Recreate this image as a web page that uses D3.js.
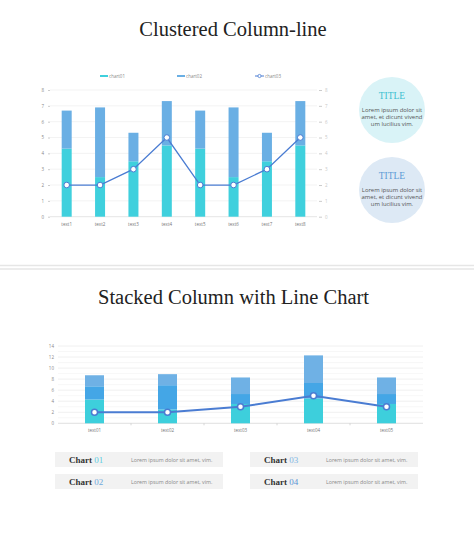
<!DOCTYPE html>
<html>
<head>
<meta charset="utf-8">
<style>
body { margin: 0; background: #fff; }
text { font-family: "Open Sans", "Noto Sans", sans-serif; }
.serif { font-family: "Liberation Serif", "DejaVu Serif", serif; }
</style>
</head>
<body>
<svg id="page"></svg>
<script src="https://cdnjs.cloudflare.com/ajax/libs/d3/7.8.5/d3.min.js"></script>
<script>
// top chart data
var cats1 = ['text1', 'text2', 'text3', 'text4', 'text5', 'text6', 'text7', 'text8'];
var chart01 = [4.3, 2.5, 3.5, 4.5, 4.3, 2.5, 3.5, 4.5];
var chart02 = [2.4, 4.4, 1.8, 2.8, 2.4, 4.4, 1.8, 2.8];
var chart03 = [2, 2, 3, 5, 2, 2, 3, 5];
var ticks1 = [0, 1, 2, 3, 4, 5, 6, 7, 8];

// bottom chart data
var cats2 = ['text01', 'text02', 'text03', 'text04', 'text05'];
var stackA = [4.3, 2.5, 3.5, 4.5, 3.5];
var stackB = [2.4, 4.4, 1.8, 2.8, 1.8];
var stackC = [2, 2, 3, 5, 3];
var line2 = [2, 2, 3, 5, 3];
var ticks2 = [0, 2, 4, 6, 8, 10, 12, 14];

var legendNames = ['chart01', 'chart02', 'chart03'];
var boxLabels = ['01', '02', '03', '04'];

var cyan = '#3fd0dd', blue = '#6aafe4', lineCol = '#4a7cd2';

var svg = d3.select('#page').attr('width', 474).attr('height', 535);

// titles
svg.append('text').attr('class', 'serif')
  .attr('x', 233).attr('y', 36).attr('text-anchor', 'middle')
  .attr('font-size', 20.5).attr('fill', '#222')
  .text('Clustered Column-line');
svg.append('text').attr('class', 'serif')
  .attr('x', 233.5).attr('y', 304).attr('text-anchor', 'middle')
  .attr('font-size', 20.5).attr('fill', '#222')
  .text('Stacked Column with Line Chart');

// ---- top chart ----
var x1 = d3.scaleBand().domain(cats1).range([50, 317]);
var y1 = d3.scaleLinear().domain([0, 8]).range([216.7, 90]);
var g1 = svg.append('g');

g1.selectAll('line.grid').data(ticks1).enter().append('line')
  .attr('x1', 50).attr('x2', 317)
  .attr('y1', function(d) { return y1(d); })
  .attr('y2', function(d) { return y1(d); })
  .attr('stroke', function(d) { return d == 0 ? '#ddd' : '#f0f0f0'; })
  .attr('stroke-width', 0.8);

var leftAxis = d3.axisLeft(y1).tickValues(ticks1).tickSize(2).tickPadding(4);
g1.append('g').attr('transform', 'translate(50,0)').call(leftAxis)
  .call(function(g) {
    g.select('.domain').remove();
    g.selectAll('line').attr('stroke', '#ccc');
    g.selectAll('text').attr('font-size', 4.5).attr('fill', '#888');
  });
var rightAxis = d3.axisRight(y1).tickValues(ticks1).tickSize(3).tickPadding(3);
g1.append('g').attr('transform', 'translate(319,0)').call(rightAxis)
  .call(function(g) {
    g.select('.domain').remove();
    g.selectAll('line').attr('stroke', '#ccc');
    g.selectAll('text').attr('font-size', 4.5).attr('fill', '#c8c8c8');
  });
var bottomAxis1 = d3.axisBottom(x1).tickSize(0).tickPadding(6);
g1.append('g').attr('transform', 'translate(0,' + y1(0) + ')').call(bottomAxis1)
  .call(function(g) {
    g.select('.domain').remove();
    g.selectAll('text').attr('font-size', 4.5).attr('fill', '#777');
  });

var bw1 = 10;
g1.selectAll('rect.a').data(cats1).enter().append('rect')
  .attr('x', function(d) { return x1(d) + x1.bandwidth() / 2 - bw1 / 2; })
  .attr('width', bw1)
  .attr('y', function(d, i) { return y1(chart01[i]); })
  .attr('height', function(d, i) { return y1(0) - y1(chart01[i]); })
  .attr('fill', cyan);
g1.selectAll('rect.b').data(cats1).enter().append('rect')
  .attr('x', function(d) { return x1(d) + x1.bandwidth() / 2 - bw1 / 2; })
  .attr('width', bw1)
  .attr('y', function(d, i) { return y1(chart01[i] + chart02[i]); })
  .attr('height', function(d, i) { return y1(chart01[i]) - y1(chart01[i] + chart02[i]); })
  .attr('fill', blue);

var line1 = d3.line()
  .x(function(d, i) { return x1(cats1[i]) + x1.bandwidth() / 2; })
  .y(function(d) { return y1(d); });
g1.append('path').datum(chart03).attr('d', line1)
  .attr('fill', 'none').attr('stroke', lineCol).attr('stroke-width', 1.3);
g1.selectAll('circle.pt').data(chart03).enter().append('circle')
  .attr('cx', function(d, i) { return x1(cats1[i]) + x1.bandwidth() / 2; })
  .attr('cy', function(d) { return y1(d); })
  .attr('r', 2.8).attr('fill', '#fff')
  .attr('stroke', lineCol).attr('stroke-width', 1);

// legend
var legX = [100, 177, 255];
var leg = g1.selectAll('g.leg').data(legendNames).enter().append('g')
  .attr('transform', function(d, i) { return 'translate(' + legX[i] + ',76)'; });
leg.each(function(d, i) {
  var g = d3.select(this);
  if (i < 2) {
    g.append('rect').attr('x', 0).attr('y', -1).attr('width', 8).attr('height', 2)
      .attr('fill', i == 0 ? cyan : blue);
  } else {
    g.append('line').attr('x1', 0).attr('x2', 9).attr('y1', 0).attr('y2', 0)
      .attr('stroke', lineCol).attr('stroke-width', 1);
    g.append('circle').attr('cx', 4.5).attr('cy', 0).attr('r', 1.6)
      .attr('fill', '#fff').attr('stroke', lineCol).attr('stroke-width', 0.8);
  }
  g.append('text').attr('x', i < 2 ? 9 : 10).attr('y', 1.6)
    .attr('font-size', 4.5).attr('fill', '#888').text(d);
});

// circles with text
var bubbles = [
  { cy: 110, fill: '#d9f3f7', title: '#3bbfd0' },
  { cy: 190, fill: '#dde9f5', title: '#5c9bd6' }
];
var lorem = ['Lorem ipsum dolor sit', 'amet, et dicunt vivend', 'um lucilius vim.'];
bubbles.forEach(function(b) {
  svg.append('circle').attr('cx', 392).attr('cy', b.cy).attr('r', 33).attr('fill', b.fill);
  svg.append('text').attr('class', 'serif').attr('x', 392).attr('y', b.cy - 11)
    .attr('text-anchor', 'middle').attr('font-size', 9.5).attr('fill', b.title).text('TITLE');
  lorem.forEach(function(t, i) {
    svg.append('text').attr('x', 392).attr('y', b.cy + 2 + i * 7)
      .attr('text-anchor', 'middle').attr('font-size', 5.9).attr('fill', '#555').text(t);
  });
});

// separator
[265.5, 269].forEach(function(yy) {
  svg.append('line').attr('x1', 0).attr('x2', 474).attr('y1', yy).attr('y2', yy)
    .attr('stroke', '#e6e6e6').attr('stroke-width', 1.5);
});

// ---- bottom chart ----
var x2 = d3.scaleBand().domain(cats2).range([58, 423]);
var y2 = d3.scaleLinear().domain([0, 14]).range([423.3, 346]);
var g2 = svg.append('g');

g2.selectAll('line.grid').data(d3.range(1, 15)).enter().append('line')
  .attr('x1', 58).attr('x2', 423)
  .attr('y1', function(d) { return y2(d); })
  .attr('y2', function(d) { return y2(d); })
  .attr('stroke', function(d) { return d % 2 == 0 ? '#ececec' : '#f5f5f5'; })
  .attr('stroke-width', 0.8);
g2.append('line').attr('x1', 58).attr('x2', 423)
  .attr('y1', y2(0)).attr('y2', y2(0)).attr('stroke', '#d8d8d8').attr('stroke-width', 0.8);

var leftAxis2 = d3.axisLeft(y2).tickValues(ticks2).tickSize(0).tickPadding(4);
g2.append('g').attr('transform', 'translate(58,0)').call(leftAxis2)
  .call(function(g) {
    g.select('.domain').remove();
    g.selectAll('text').attr('font-size', 4.5).attr('fill', '#888');
  });
var bottomAxis2 = d3.axisBottom(x2).tickSize(0).tickPadding(6);
g2.append('g').attr('transform', 'translate(0,' + y2(0) + ')').call(bottomAxis2)
  .call(function(g) {
    g.select('.domain').remove();
    g.selectAll('text').attr('font-size', 4.5).attr('fill', '#777');
  });
// small tick marks at band edges
g2.selectAll('line.edge').data(cats2.slice(1)).enter().append('line')
  .attr('x1', function(d) { return x2(d); }).attr('x2', function(d) { return x2(d); })
  .attr('y1', y2(0)).attr('y2', y2(0) + 2).attr('stroke', '#ccc').attr('stroke-width', 0.8);

var bw2 = 19;
var stackCols = ['#3dcfdc', '#44a6e6', '#6fb1e5'];
var stackData = [stackA, stackB, stackC];
stackData.forEach(function(series, k) {
  g2.selectAll('rect.s' + k).data(cats2).enter().append('rect')
    .attr('x', function(d) { return x2(d) + x2.bandwidth() / 2 - bw2 / 2; })
    .attr('width', bw2)
    .attr('y', function(d, i) {
      var top = 0;
      for (var j = 0; j <= k; j++) top += stackData[j][i];
      return y2(top);
    })
    .attr('height', function(d, i) {
      var base = 0;
      for (var j = 0; j < k; j++) base += stackData[j][i];
      return y2(base) - y2(base + series[i]);
    })
    .attr('fill', stackCols[k]);
});

var lineGen2 = d3.line()
  .x(function(d, i) { return x2(cats2[i]) + x2.bandwidth() / 2; })
  .y(function(d) { return y2(d); });
g2.append('path').datum(line2).attr('d', lineGen2)
  .attr('fill', 'none').attr('stroke', lineCol).attr('stroke-width', 2);
g2.selectAll('circle.pt').data(line2).enter().append('circle')
  .attr('cx', function(d, i) { return x2(cats2[i]) + x2.bandwidth() / 2; })
  .attr('cy', function(d) { return y2(d); })
  .attr('r', 3).attr('fill', '#fff')
  .attr('stroke', lineCol).attr('stroke-width', 1.5);

// info boxes
var boxPos = [[55, 452], [55, 474], [250, 452], [250, 474]];
var numCols = ['#5ccbe0', '#6fa9dc', '#7fb6e4', '#5b93d4'];
boxLabels.forEach(function(lab, i) {
  var p = boxPos[i];
  svg.append('rect').attr('x', p[0]).attr('y', p[1]).attr('width', 168).attr('height', 15)
    .attr('fill', '#f2f2f2');
  var t = svg.append('text').attr('class', 'serif').attr('x', p[0] + 14).attr('y', p[1] + 10.5)
    .attr('font-size', 9).attr('fill', '#333');
  t.append('tspan').attr('font-weight', 'bold').text('Chart ');
  t.append('tspan').attr('fill', numCols[i]).text(lab);
  svg.append('text').attr('x', p[0] + 76).attr('y', p[1] + 9.5)
    .attr('font-size', 5.3).attr('fill', '#888').text('Lorem ipsum dolor sit amet, vim.');
});
</script>
</body>
</html>
